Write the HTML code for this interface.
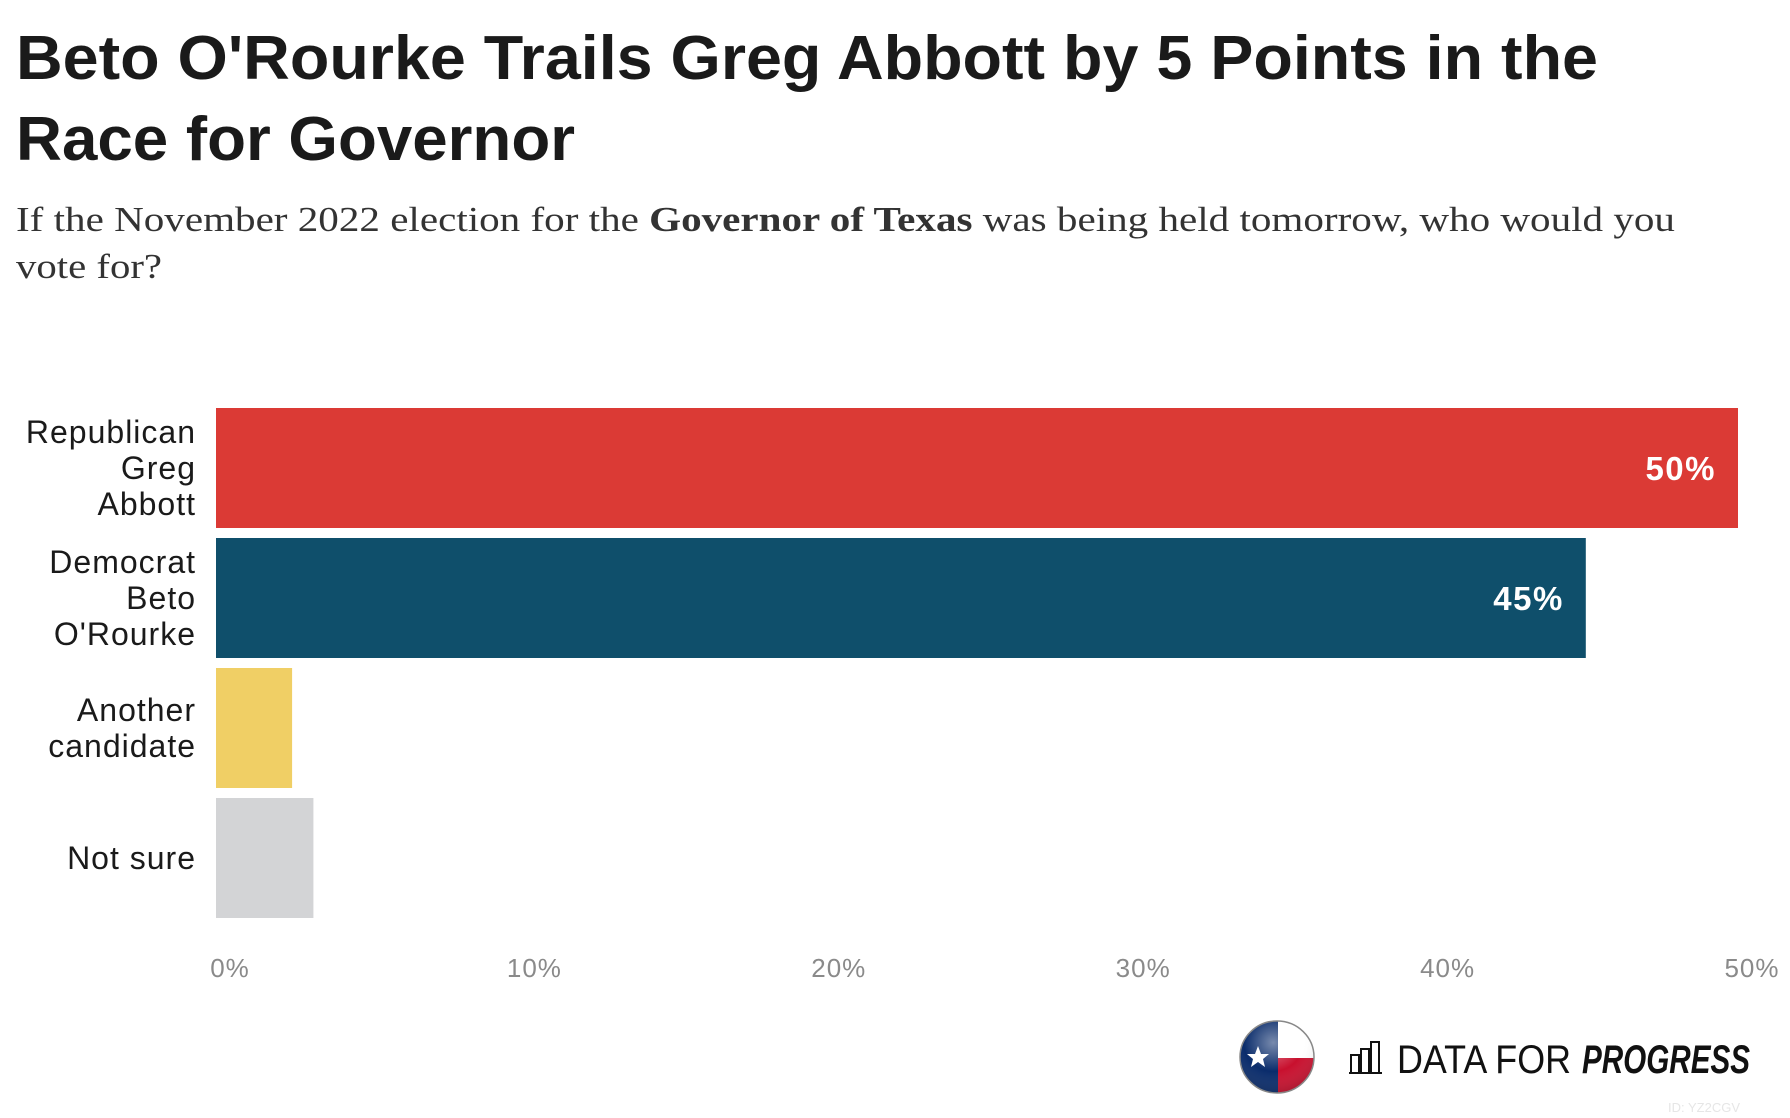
<!DOCTYPE html>
<html><head><meta charset="utf-8"><style>
html,body{margin:0;padding:0;background:#fff;}
svg{display:block;}
</style></head><body>
<svg id="chart" width="1790" height="1118" viewBox="0 0 1790 1118" xmlns="http://www.w3.org/2000/svg">
<text x="16" y="79" font-family="Liberation Sans, sans-serif" font-weight="bold" font-size="62" fill="#1a1a1a" textLength="1582" lengthAdjust="spacingAndGlyphs">Beto O'Rourke Trails Greg Abbott by 5 Points in the</text>
<text x="16" y="160" font-family="Liberation Sans, sans-serif" font-weight="bold" font-size="62" fill="#1a1a1a" textLength="559" lengthAdjust="spacingAndGlyphs">Race for Governor</text>
<text x="16" y="231" font-family="Liberation Serif, serif" font-size="35" fill="#333" textLength="1659" lengthAdjust="spacingAndGlyphs">If the November 2022 election for the <tspan font-weight="bold">Governor of Texas</tspan> was being held tomorrow, who would you</text>
<text x="16" y="278" font-family="Liberation Serif, serif" font-size="35" fill="#333" textLength="146" lengthAdjust="spacingAndGlyphs">vote for?</text>
<g id="bars"></g>
<g id="axis"></g>
<g>
<defs>
<clipPath id="fc"><ellipse cx="1277" cy="1057" rx="37" ry="36"/></clipPath>
<radialGradient id="gl" cx="0.45" cy="0.3" r="0.8"><stop offset="0" stop-color="#fff" stop-opacity="0.45"/><stop offset="0.5" stop-color="#fff" stop-opacity="0"/><stop offset="1" stop-color="#000" stop-opacity="0.25"/></radialGradient>
</defs>
<g clip-path="url(#fc)">
<rect x="1238" y="1018" width="40" height="80" fill="#0a2c6b"/>
<rect x="1278" y="1018" width="40" height="40" fill="#fff"/>
<rect x="1278" y="1058" width="40" height="40" fill="#c8102e"/>
<polygon points="1258,1046 1261,1054 1269,1054 1263,1059 1265,1067 1258,1062 1251,1067 1253,1059 1247,1054 1255,1054" fill="#fff"/>
<ellipse cx="1277" cy="1057" rx="37" ry="36" fill="url(#gl)"/>
</g>
<ellipse cx="1277" cy="1057" rx="37" ry="36" fill="none" stroke="#888" stroke-width="1.5"/>
</g>
<g>
<g fill="none" stroke="#111" stroke-width="2">
<rect x="1351" y="1055" width="8" height="18"/><rect x="1361" y="1049" width="8" height="24"/><rect x="1371" y="1042" width="8" height="31"/>
<line x1="1349" y1="1073" x2="1382" y2="1073"/>
</g>
<text x="1397" y="1073" font-family="Liberation Sans, sans-serif" font-size="40" fill="#111" textLength="174" lengthAdjust="spacingAndGlyphs">DATA FOR</text>
<text x="1582" y="1073" font-family="Liberation Sans, sans-serif" font-size="40" font-weight="bold" font-style="italic" fill="#111" textLength="168" lengthAdjust="spacingAndGlyphs">PROGRESS</text>
</g>
<text x="1668" y="1112" font-family="Liberation Sans, sans-serif" font-size="13" fill="#e6e6e6">ID: YZ2CGV</text>
</svg>
<script>
const categories = [["Republican","Greg","Abbott"],["Democrat","Beto","O'Rourke"],["Another","candidate"],["Not sure"]];
const values = [50, 45, 2.5, 3.2];
const valueLabels = ["50%","45%","",""];
const colors = ["#db3a35","#0f4f6b","#f0cf65","#d3d4d6"];
const ticks = [0,10,20,30,40,50];
const tickLabels = ["0%","10%","20%","30%","40%","50%"];
const NS="http://www.w3.org/2000/svg";
const x0=216, x1=1738, vmax=50;
const xs=v=>x0+(v/vmax)*(x1-x0);
const bandTop=408, step=130, bh=120;
const yb=i=>bandTop+i*step;
const bars=document.getElementById('bars');
categories.forEach((lines,i)=>{
  const r=document.createElementNS(NS,'rect');
  
  
  r.setAttribute('x',x0);r.setAttribute('y',yb(i));
  r.setAttribute('width',xs(values[i])-x0);r.setAttribute('height',bh);
  r.setAttribute('fill',colors[i]);
  bars.appendChild(r);
  const cy=yb(i)+bh/2, lh=36;
  lines.forEach((ln,j)=>{
    const t=document.createElementNS(NS,'text');
    
    
    t.setAttribute('x',196);
    t.setAttribute('y',cy+(j-(lines.length-1)/2)*lh+11);
    t.setAttribute('text-anchor','end');
    t.setAttribute('font-family','Liberation Sans, sans-serif');
    t.setAttribute('font-size','32');t.setAttribute('fill','#1a1a1a');
    t.setAttribute('letter-spacing','1');
    t.textContent=ln;bars.appendChild(t);
  });
  if(valueLabels[i]){
    const t=document.createElementNS(NS,'text');
    
    
    t.setAttribute('x',xs(values[i])-22);t.setAttribute('y',cy+12);
    t.setAttribute('text-anchor','end');
    t.setAttribute('font-family','Liberation Sans, sans-serif');
    t.setAttribute('font-weight','bold');
    t.setAttribute('font-size','33');t.setAttribute('fill','#fff');
    t.setAttribute('letter-spacing','1.5');
    t.textContent=valueLabels[i];bars.appendChild(t);
  }
});
const axis=document.getElementById('axis');
ticks.forEach((v,i)=>{
  const t=document.createElementNS(NS,'text');
  
  
  t.setAttribute('x',xs(v)+14);t.setAttribute('y',977);
  t.setAttribute('text-anchor','middle');
  t.setAttribute('font-family','Liberation Sans, sans-serif');
  t.setAttribute('font-size','26');t.setAttribute('fill','#8a8a8a');
  t.setAttribute('letter-spacing','1');
  t.textContent=tickLabels[i];axis.appendChild(t);
});
</script>
</body></html>
